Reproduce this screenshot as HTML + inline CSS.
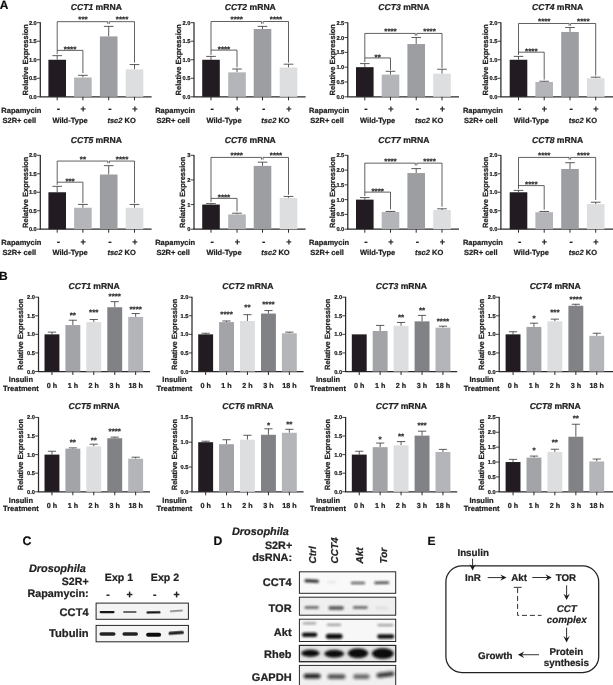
<!DOCTYPE html>
<html lang="en">
<head>
<meta charset="utf-8">
<title>CCT mRNA expression figure</title>
<style>
html,body{margin:0;padding:0;background:#fff;}
body{width:613px;height:685px;overflow:hidden;}
svg{display:block;font-family:"Liberation Sans", sans-serif;text-rendering:geometricPrecision;}
text{stroke:#222;stroke-width:0.22px;}
</style>
</head>
<body>
<svg width="613" height="685" viewBox="0 0 613 685" font-family='"Liberation Sans", sans-serif'>
<defs>
<filter id="soft" x="0" y="0" width="613" height="685" filterUnits="userSpaceOnUse"><feGaussianBlur stdDeviation="0.32"/></filter>
<filter id="b0" x="-20%" y="-60%" width="140%" height="220%"><feGaussianBlur stdDeviation="0.6"/></filter>
<filter id="b3" x="-30%" y="-80%" width="160%" height="260%"><feGaussianBlur stdDeviation="1.4"/></filter>
<filter id="b1" x="-20%" y="-60%" width="140%" height="220%"><feGaussianBlur stdDeviation="0.8"/></filter>
<filter id="b2" x="-20%" y="-60%" width="140%" height="220%"><feGaussianBlur stdDeviation="1.15"/></filter>
</defs>
<rect x="0" y="0" width="613" height="685" fill="#fff"/>
<g filter="url(#soft)">
<text x="96.35" y="10.20" font-size="8.6" text-anchor="middle" font-weight="bold" fill="#222"><tspan font-style="italic">CCT1</tspan> mRNA</text>
<path d="M40.30 22.30V96.80" stroke="#2a2a2a" stroke-width="1.25" fill="none"/>
<path d="M39.70 96.80H151.60" stroke="#2a2a2a" stroke-width="1.25" fill="none"/>
<path d="M37.00 96.80H40.30" stroke="#2a2a2a" stroke-width="0.9"/>
<text x="36.80" y="98.80" font-size="5.7" text-anchor="end" font-weight="bold" font-style="normal" fill="#222" >0.0</text>
<path d="M37.00 78.28H40.30" stroke="#2a2a2a" stroke-width="0.9"/>
<text x="36.80" y="80.28" font-size="5.7" text-anchor="end" font-weight="bold" font-style="normal" fill="#222" >0.5</text>
<path d="M37.00 59.75H40.30" stroke="#2a2a2a" stroke-width="0.9"/>
<text x="36.80" y="61.75" font-size="5.7" text-anchor="end" font-weight="bold" font-style="normal" fill="#222" >1.0</text>
<path d="M37.00 41.23H40.30" stroke="#2a2a2a" stroke-width="0.9"/>
<text x="36.80" y="43.23" font-size="5.7" text-anchor="end" font-weight="bold" font-style="normal" fill="#222" >1.5</text>
<path d="M37.00 22.70H40.30" stroke="#2a2a2a" stroke-width="0.9"/>
<text x="36.80" y="24.70" font-size="5.7" text-anchor="end" font-weight="bold" font-style="normal" fill="#222" >2.0</text>
<text transform="translate(27.50 59.75) rotate(-90)" font-size="7.5" text-anchor="middle" font-weight="bold" fill="#222">Relative Expression</text>
<path d="M57.20 59.75V55.67M52.36 55.67H62.04" stroke="#333" stroke-width="0.8" fill="none"/>
<rect x="48.40" y="59.75" width="17.60" height="37.05" fill="#231f20"/>
<path d="M57.20 96.80v3.5" stroke="#2a2a2a" stroke-width="1.0"/>
<path d="M82.90 77.53V75.31M78.06 75.31H87.74" stroke="#333" stroke-width="0.8" fill="none"/>
<rect x="74.10" y="77.53" width="17.60" height="19.27" fill="#b4b5b8"/>
<path d="M82.90 96.80v3.5" stroke="#2a2a2a" stroke-width="1.0"/>
<path d="M108.70 36.41V26.41M103.86 26.41H113.54" stroke="#333" stroke-width="0.8" fill="none"/>
<rect x="99.90" y="36.41" width="17.60" height="60.39" fill="#9c9ea1"/>
<path d="M108.70 96.80v3.5" stroke="#2a2a2a" stroke-width="1.0"/>
<path d="M134.50 69.38V64.57M129.66 64.57H139.34" stroke="#333" stroke-width="0.8" fill="none"/>
<rect x="125.70" y="69.38" width="17.60" height="27.42" fill="#dddedf"/>
<path d="M134.50 96.80v3.5" stroke="#2a2a2a" stroke-width="1.0"/>
<path d="M57.20 54.17V21.66H107.80v2.2M57.20 50.38H82.90V73.08M109.30 23.86v-2.2H134.50V62.64" stroke="#383838" stroke-width="0.8" fill="none"/>
<text x="82.95" y="22.16" font-size="8.0" text-anchor="middle" font-weight="bold" font-style="normal" fill="#333" >***</text>
<text x="122.10" y="22.16" font-size="8.0" text-anchor="middle" font-weight="bold" font-style="normal" fill="#333" >****</text>
<text x="70.05" y="52.18" font-size="8.0" text-anchor="middle" font-weight="bold" font-style="normal" fill="#333" >****</text>
<text x="1.30" y="112.50" font-size="7.5" text-anchor="start" font-weight="bold" font-style="normal" fill="#222" >Rapamycin</text>
<text x="2.50" y="123.30" font-size="7.5" text-anchor="start" font-weight="bold" font-style="normal" fill="#222" >S2R+ cell</text>
<text x="58.40" y="112.40" font-size="10.0" text-anchor="middle" font-weight="bold" font-style="normal" fill="#222" >-</text>
<text x="83.20" y="112.30" font-size="9.0" text-anchor="middle" font-weight="bold" font-style="normal" fill="#222" >+</text>
<text x="109.90" y="112.40" font-size="10.0" text-anchor="middle" font-weight="bold" font-style="normal" fill="#222" >-</text>
<text x="134.80" y="112.30" font-size="9.0" text-anchor="middle" font-weight="bold" font-style="normal" fill="#222" >+</text>
<text x="70.05" y="123.30" font-size="7.5" text-anchor="middle" font-weight="bold" font-style="normal" fill="#222" >Wild-Type</text>
<text x="121.60" y="123.30" font-size="7.5" text-anchor="middle" font-weight="bold" fill="#222"><tspan font-style="italic">tsc2</tspan> KO</text>
<text x="250.25" y="10.20" font-size="8.6" text-anchor="middle" font-weight="bold" fill="#222"><tspan font-style="italic">CCT2</tspan> mRNA</text>
<path d="M194.00 22.30V96.80" stroke="#2a2a2a" stroke-width="1.25" fill="none"/>
<path d="M193.40 96.80H305.60" stroke="#2a2a2a" stroke-width="1.25" fill="none"/>
<path d="M190.70 96.80H194.00" stroke="#2a2a2a" stroke-width="0.9"/>
<text x="190.50" y="98.80" font-size="5.7" text-anchor="end" font-weight="bold" font-style="normal" fill="#222" >0.0</text>
<path d="M190.70 78.28H194.00" stroke="#2a2a2a" stroke-width="0.9"/>
<text x="190.50" y="80.28" font-size="5.7" text-anchor="end" font-weight="bold" font-style="normal" fill="#222" >0.5</text>
<path d="M190.70 59.75H194.00" stroke="#2a2a2a" stroke-width="0.9"/>
<text x="190.50" y="61.75" font-size="5.7" text-anchor="end" font-weight="bold" font-style="normal" fill="#222" >1.0</text>
<path d="M190.70 41.23H194.00" stroke="#2a2a2a" stroke-width="0.9"/>
<text x="190.50" y="43.23" font-size="5.7" text-anchor="end" font-weight="bold" font-style="normal" fill="#222" >1.5</text>
<path d="M190.70 22.70H194.00" stroke="#2a2a2a" stroke-width="0.9"/>
<text x="190.50" y="24.70" font-size="5.7" text-anchor="end" font-weight="bold" font-style="normal" fill="#222" >2.0</text>
<text transform="translate(181.20 59.75) rotate(-90)" font-size="7.5" text-anchor="middle" font-weight="bold" fill="#222">Relative Expression</text>
<path d="M211.00 59.75V56.42M206.16 56.42H215.84" stroke="#333" stroke-width="0.8" fill="none"/>
<rect x="202.20" y="59.75" width="17.60" height="37.05" fill="#231f20"/>
<path d="M211.00 96.80v3.5" stroke="#2a2a2a" stroke-width="1.0"/>
<path d="M237.00 72.35V69.01M232.16 69.01H241.84" stroke="#333" stroke-width="0.8" fill="none"/>
<rect x="228.20" y="72.35" width="17.60" height="24.45" fill="#b4b5b8"/>
<path d="M237.00 96.80v3.5" stroke="#2a2a2a" stroke-width="1.0"/>
<path d="M262.50 29.00V26.41M257.66 26.41H267.34" stroke="#333" stroke-width="0.8" fill="none"/>
<rect x="253.70" y="29.00" width="17.60" height="67.80" fill="#9c9ea1"/>
<path d="M262.50 96.80v3.5" stroke="#2a2a2a" stroke-width="1.0"/>
<path d="M288.50 67.53V64.20M283.66 64.20H293.34" stroke="#333" stroke-width="0.8" fill="none"/>
<rect x="279.70" y="67.53" width="17.60" height="29.27" fill="#dddedf"/>
<path d="M288.50 96.80v3.5" stroke="#2a2a2a" stroke-width="1.0"/>
<path d="M211.00 54.92V21.51H261.60v2.2M211.00 50.11H237.00V67.34M263.10 23.71v-2.2H288.50V62.64" stroke="#383838" stroke-width="0.8" fill="none"/>
<text x="236.75" y="22.01" font-size="8.0" text-anchor="middle" font-weight="bold" font-style="normal" fill="#333" >****</text>
<text x="276.00" y="22.01" font-size="8.0" text-anchor="middle" font-weight="bold" font-style="normal" fill="#333" >****</text>
<text x="224.00" y="51.91" font-size="8.0" text-anchor="middle" font-weight="bold" font-style="normal" fill="#333" >****</text>
<text x="155.20" y="112.50" font-size="7.5" text-anchor="start" font-weight="bold" font-style="normal" fill="#222" >Rapamycin</text>
<text x="156.40" y="123.30" font-size="7.5" text-anchor="start" font-weight="bold" font-style="normal" fill="#222" >S2R+ cell</text>
<text x="212.20" y="112.40" font-size="10.0" text-anchor="middle" font-weight="bold" font-style="normal" fill="#222" >-</text>
<text x="237.30" y="112.30" font-size="9.0" text-anchor="middle" font-weight="bold" font-style="normal" fill="#222" >+</text>
<text x="263.70" y="112.40" font-size="10.0" text-anchor="middle" font-weight="bold" font-style="normal" fill="#222" >-</text>
<text x="288.80" y="112.30" font-size="9.0" text-anchor="middle" font-weight="bold" font-style="normal" fill="#222" >+</text>
<text x="224.00" y="123.30" font-size="7.5" text-anchor="middle" font-weight="bold" font-style="normal" fill="#222" >Wild-Type</text>
<text x="275.50" y="123.30" font-size="7.5" text-anchor="middle" font-weight="bold" fill="#222"><tspan font-style="italic">tsc2</tspan> KO</text>
<text x="403.90" y="10.20" font-size="8.6" text-anchor="middle" font-weight="bold" fill="#222"><tspan font-style="italic">CCT3</tspan> mRNA</text>
<path d="M347.80 22.30V96.80" stroke="#2a2a2a" stroke-width="1.25" fill="none"/>
<path d="M347.20 96.80H459.00" stroke="#2a2a2a" stroke-width="1.25" fill="none"/>
<path d="M344.50 96.80H347.80" stroke="#2a2a2a" stroke-width="0.9"/>
<text x="344.30" y="98.80" font-size="5.7" text-anchor="end" font-weight="bold" font-style="normal" fill="#222" >0.0</text>
<path d="M344.50 81.98H347.80" stroke="#2a2a2a" stroke-width="0.9"/>
<text x="344.30" y="83.98" font-size="5.7" text-anchor="end" font-weight="bold" font-style="normal" fill="#222" >0.5</text>
<path d="M344.50 67.16H347.80" stroke="#2a2a2a" stroke-width="0.9"/>
<text x="344.30" y="69.16" font-size="5.7" text-anchor="end" font-weight="bold" font-style="normal" fill="#222" >1.0</text>
<path d="M344.50 52.34H347.80" stroke="#2a2a2a" stroke-width="0.9"/>
<text x="344.30" y="54.34" font-size="5.7" text-anchor="end" font-weight="bold" font-style="normal" fill="#222" >1.5</text>
<path d="M344.50 37.52H347.80" stroke="#2a2a2a" stroke-width="0.9"/>
<text x="344.30" y="39.52" font-size="5.7" text-anchor="end" font-weight="bold" font-style="normal" fill="#222" >2.0</text>
<path d="M344.50 22.70H347.80" stroke="#2a2a2a" stroke-width="0.9"/>
<text x="344.30" y="24.70" font-size="5.7" text-anchor="end" font-weight="bold" font-style="normal" fill="#222" >2.5</text>
<text transform="translate(335.00 59.75) rotate(-90)" font-size="7.5" text-anchor="middle" font-weight="bold" fill="#222">Relative Expression</text>
<path d="M364.80 67.16V63.60M359.96 63.60H369.64" stroke="#333" stroke-width="0.8" fill="none"/>
<rect x="356.00" y="67.16" width="17.60" height="29.64" fill="#231f20"/>
<path d="M364.80 96.80v3.5" stroke="#2a2a2a" stroke-width="1.0"/>
<path d="M390.50 74.57V71.31M385.66 71.31H395.34" stroke="#333" stroke-width="0.8" fill="none"/>
<rect x="381.70" y="74.57" width="17.60" height="22.23" fill="#b4b5b8"/>
<path d="M390.50 96.80v3.5" stroke="#2a2a2a" stroke-width="1.0"/>
<path d="M416.20 44.04V37.52M411.36 37.52H421.04" stroke="#333" stroke-width="0.8" fill="none"/>
<rect x="407.40" y="44.04" width="17.60" height="52.76" fill="#9c9ea1"/>
<path d="M416.20 96.80v3.5" stroke="#2a2a2a" stroke-width="1.0"/>
<path d="M442.00 73.68V69.23M437.16 69.23H446.84" stroke="#333" stroke-width="0.8" fill="none"/>
<rect x="433.20" y="73.68" width="17.60" height="23.12" fill="#dddedf"/>
<path d="M442.00 96.80v3.5" stroke="#2a2a2a" stroke-width="1.0"/>
<path d="M364.80 62.10V33.41H415.30v2.2M364.80 57.94H390.50V69.95M416.80 35.61v-2.2H442.00V67.86" stroke="#383838" stroke-width="0.8" fill="none"/>
<text x="390.50" y="33.91" font-size="8.0" text-anchor="middle" font-weight="bold" font-style="normal" fill="#333" >****</text>
<text x="429.60" y="33.91" font-size="8.0" text-anchor="middle" font-weight="bold" font-style="normal" fill="#333" >****</text>
<text x="377.65" y="59.74" font-size="8.0" text-anchor="middle" font-weight="bold" font-style="normal" fill="#333" >**</text>
<text x="309.10" y="112.50" font-size="7.5" text-anchor="start" font-weight="bold" font-style="normal" fill="#222" >Rapamycin</text>
<text x="310.30" y="123.30" font-size="7.5" text-anchor="start" font-weight="bold" font-style="normal" fill="#222" >S2R+ cell</text>
<text x="366.00" y="112.40" font-size="10.0" text-anchor="middle" font-weight="bold" font-style="normal" fill="#222" >-</text>
<text x="390.80" y="112.30" font-size="9.0" text-anchor="middle" font-weight="bold" font-style="normal" fill="#222" >+</text>
<text x="417.40" y="112.40" font-size="10.0" text-anchor="middle" font-weight="bold" font-style="normal" fill="#222" >-</text>
<text x="442.30" y="112.30" font-size="9.0" text-anchor="middle" font-weight="bold" font-style="normal" fill="#222" >+</text>
<text x="377.65" y="123.30" font-size="7.5" text-anchor="middle" font-weight="bold" font-style="normal" fill="#222" >Wild-Type</text>
<text x="429.10" y="123.30" font-size="7.5" text-anchor="middle" font-weight="bold" fill="#222"><tspan font-style="italic">tsc2</tspan> KO</text>
<text x="557.60" y="10.20" font-size="8.6" text-anchor="middle" font-weight="bold" fill="#222"><tspan font-style="italic">CCT4</tspan> mRNA</text>
<path d="M500.90 22.30V96.80" stroke="#2a2a2a" stroke-width="1.25" fill="none"/>
<path d="M500.30 96.80H613.00" stroke="#2a2a2a" stroke-width="1.25" fill="none"/>
<path d="M497.60 96.80H500.90" stroke="#2a2a2a" stroke-width="0.9"/>
<text x="497.40" y="98.80" font-size="5.7" text-anchor="end" font-weight="bold" font-style="normal" fill="#222" >0.0</text>
<path d="M497.60 78.28H500.90" stroke="#2a2a2a" stroke-width="0.9"/>
<text x="497.40" y="80.28" font-size="5.7" text-anchor="end" font-weight="bold" font-style="normal" fill="#222" >0.5</text>
<path d="M497.60 59.75H500.90" stroke="#2a2a2a" stroke-width="0.9"/>
<text x="497.40" y="61.75" font-size="5.7" text-anchor="end" font-weight="bold" font-style="normal" fill="#222" >1.0</text>
<path d="M497.60 41.23H500.90" stroke="#2a2a2a" stroke-width="0.9"/>
<text x="497.40" y="43.23" font-size="5.7" text-anchor="end" font-weight="bold" font-style="normal" fill="#222" >1.5</text>
<path d="M497.60 22.70H500.90" stroke="#2a2a2a" stroke-width="0.9"/>
<text x="497.40" y="24.70" font-size="5.7" text-anchor="end" font-weight="bold" font-style="normal" fill="#222" >2.0</text>
<text transform="translate(488.10 59.75) rotate(-90)" font-size="7.5" text-anchor="middle" font-weight="bold" fill="#222">Relative Expression</text>
<path d="M518.50 59.75V56.42M513.66 56.42H523.34" stroke="#333" stroke-width="0.8" fill="none"/>
<rect x="509.70" y="59.75" width="17.60" height="37.05" fill="#231f20"/>
<path d="M518.50 96.80v3.5" stroke="#2a2a2a" stroke-width="1.0"/>
<path d="M544.20 81.98V81.24M539.36 81.24H549.04" stroke="#333" stroke-width="0.8" fill="none"/>
<rect x="535.40" y="81.98" width="17.60" height="14.82" fill="#b4b5b8"/>
<path d="M544.20 96.80v3.5" stroke="#2a2a2a" stroke-width="1.0"/>
<path d="M570.00 31.96V27.52M565.16 27.52H574.84" stroke="#333" stroke-width="0.8" fill="none"/>
<rect x="561.20" y="31.96" width="17.60" height="64.84" fill="#9c9ea1"/>
<path d="M570.00 96.80v3.5" stroke="#2a2a2a" stroke-width="1.0"/>
<path d="M595.70 78.28V77.16M590.86 77.16H600.54" stroke="#333" stroke-width="0.8" fill="none"/>
<rect x="586.90" y="78.28" width="17.60" height="18.52" fill="#dddedf"/>
<path d="M595.70 96.80v3.5" stroke="#2a2a2a" stroke-width="1.0"/>
<path d="M518.50 54.92V23.49H569.10v2.2M518.50 52.20H544.20V79.61M570.60 25.69v-2.2H595.70V75.69" stroke="#383838" stroke-width="0.8" fill="none"/>
<text x="544.25" y="23.99" font-size="8.0" text-anchor="middle" font-weight="bold" font-style="normal" fill="#333" >****</text>
<text x="583.35" y="23.99" font-size="8.0" text-anchor="middle" font-weight="bold" font-style="normal" fill="#333" >****</text>
<text x="531.35" y="54.00" font-size="8.0" text-anchor="middle" font-weight="bold" font-style="normal" fill="#333" >****</text>
<text x="462.90" y="112.50" font-size="7.5" text-anchor="start" font-weight="bold" font-style="normal" fill="#222" >Rapamycin</text>
<text x="464.10" y="123.30" font-size="7.5" text-anchor="start" font-weight="bold" font-style="normal" fill="#222" >S2R+ cell</text>
<text x="519.70" y="112.40" font-size="10.0" text-anchor="middle" font-weight="bold" font-style="normal" fill="#222" >-</text>
<text x="544.50" y="112.30" font-size="9.0" text-anchor="middle" font-weight="bold" font-style="normal" fill="#222" >+</text>
<text x="571.20" y="112.40" font-size="10.0" text-anchor="middle" font-weight="bold" font-style="normal" fill="#222" >-</text>
<text x="596.00" y="112.30" font-size="9.0" text-anchor="middle" font-weight="bold" font-style="normal" fill="#222" >+</text>
<text x="531.35" y="123.30" font-size="7.5" text-anchor="middle" font-weight="bold" font-style="normal" fill="#222" >Wild-Type</text>
<text x="582.85" y="123.30" font-size="7.5" text-anchor="middle" font-weight="bold" fill="#222"><tspan font-style="italic">tsc2</tspan> KO</text>
<text x="96.35" y="142.70" font-size="8.6" text-anchor="middle" font-weight="bold" fill="#222"><tspan font-style="italic">CCT5</tspan> mRNA</text>
<path d="M40.30 154.90V229.20" stroke="#2a2a2a" stroke-width="1.25" fill="none"/>
<path d="M39.70 229.20H151.60" stroke="#2a2a2a" stroke-width="1.25" fill="none"/>
<path d="M37.00 229.20H40.30" stroke="#2a2a2a" stroke-width="0.9"/>
<text x="36.80" y="231.20" font-size="5.7" text-anchor="end" font-weight="bold" font-style="normal" fill="#222" >0.0</text>
<path d="M37.00 210.72H40.30" stroke="#2a2a2a" stroke-width="0.9"/>
<text x="36.80" y="212.72" font-size="5.7" text-anchor="end" font-weight="bold" font-style="normal" fill="#222" >0.5</text>
<path d="M37.00 192.25H40.30" stroke="#2a2a2a" stroke-width="0.9"/>
<text x="36.80" y="194.25" font-size="5.7" text-anchor="end" font-weight="bold" font-style="normal" fill="#222" >1.0</text>
<path d="M37.00 173.78H40.30" stroke="#2a2a2a" stroke-width="0.9"/>
<text x="36.80" y="175.78" font-size="5.7" text-anchor="end" font-weight="bold" font-style="normal" fill="#222" >1.5</text>
<path d="M37.00 155.30H40.30" stroke="#2a2a2a" stroke-width="0.9"/>
<text x="36.80" y="157.30" font-size="5.7" text-anchor="end" font-weight="bold" font-style="normal" fill="#222" >2.0</text>
<text transform="translate(27.50 192.25) rotate(-90)" font-size="7.5" text-anchor="middle" font-weight="bold" fill="#222">Relative Expression</text>
<path d="M57.20 192.25V186.34M52.36 186.34H62.04" stroke="#333" stroke-width="0.8" fill="none"/>
<rect x="48.40" y="192.25" width="17.60" height="36.95" fill="#231f20"/>
<path d="M57.20 229.20v3.5" stroke="#2a2a2a" stroke-width="1.0"/>
<path d="M82.90 207.77V204.44M78.06 204.44H87.74" stroke="#333" stroke-width="0.8" fill="none"/>
<rect x="74.10" y="207.77" width="17.60" height="21.43" fill="#b4b5b8"/>
<path d="M82.90 229.20v3.5" stroke="#2a2a2a" stroke-width="1.0"/>
<path d="M108.70 174.51V165.65M103.86 165.65H113.54" stroke="#333" stroke-width="0.8" fill="none"/>
<rect x="99.90" y="174.51" width="17.60" height="54.69" fill="#9c9ea1"/>
<path d="M108.70 229.20v3.5" stroke="#2a2a2a" stroke-width="1.0"/>
<path d="M134.50 207.77V204.44M129.66 204.44H139.34" stroke="#333" stroke-width="0.8" fill="none"/>
<rect x="125.70" y="207.77" width="17.60" height="21.43" fill="#dddedf"/>
<path d="M134.50 229.20v3.5" stroke="#2a2a2a" stroke-width="1.0"/>
<path d="M57.20 184.84V161.06H107.80v2.2M57.20 182.20H82.90V203.08M109.30 163.26v-2.2H134.50V203.08" stroke="#383838" stroke-width="0.8" fill="none"/>
<text x="82.95" y="161.56" font-size="8.0" text-anchor="middle" font-weight="bold" font-style="normal" fill="#333" >**</text>
<text x="122.10" y="161.56" font-size="8.0" text-anchor="middle" font-weight="bold" font-style="normal" fill="#333" >****</text>
<text x="70.05" y="184.00" font-size="8.0" text-anchor="middle" font-weight="bold" font-style="normal" fill="#333" >***</text>
<text x="1.30" y="245.00" font-size="7.5" text-anchor="start" font-weight="bold" font-style="normal" fill="#222" >Rapamycin</text>
<text x="2.50" y="255.00" font-size="7.5" text-anchor="start" font-weight="bold" font-style="normal" fill="#222" >S2R+ cell</text>
<text x="58.40" y="244.90" font-size="10.0" text-anchor="middle" font-weight="bold" font-style="normal" fill="#222" >-</text>
<text x="83.20" y="244.80" font-size="9.0" text-anchor="middle" font-weight="bold" font-style="normal" fill="#222" >+</text>
<text x="109.90" y="244.90" font-size="10.0" text-anchor="middle" font-weight="bold" font-style="normal" fill="#222" >-</text>
<text x="134.80" y="244.80" font-size="9.0" text-anchor="middle" font-weight="bold" font-style="normal" fill="#222" >+</text>
<text x="70.05" y="255.00" font-size="7.5" text-anchor="middle" font-weight="bold" font-style="normal" fill="#222" >Wild-Type</text>
<text x="121.60" y="255.00" font-size="7.5" text-anchor="middle" font-weight="bold" fill="#222"><tspan font-style="italic">tsc2</tspan> KO</text>
<text x="250.25" y="142.70" font-size="8.6" text-anchor="middle" font-weight="bold" fill="#222"><tspan font-style="italic">CCT6</tspan> mRNA</text>
<path d="M194.00 154.90V229.20" stroke="#2a2a2a" stroke-width="1.25" fill="none"/>
<path d="M193.40 229.20H305.60" stroke="#2a2a2a" stroke-width="1.25" fill="none"/>
<path d="M190.70 229.20H194.00" stroke="#2a2a2a" stroke-width="0.9"/>
<text x="190.50" y="231.20" font-size="5.7" text-anchor="end" font-weight="bold" font-style="normal" fill="#222" >0</text>
<path d="M190.70 204.57H194.00" stroke="#2a2a2a" stroke-width="0.9"/>
<text x="190.50" y="206.57" font-size="5.7" text-anchor="end" font-weight="bold" font-style="normal" fill="#222" >1</text>
<path d="M190.70 179.93H194.00" stroke="#2a2a2a" stroke-width="0.9"/>
<text x="190.50" y="181.93" font-size="5.7" text-anchor="end" font-weight="bold" font-style="normal" fill="#222" >2</text>
<path d="M190.70 155.30H194.00" stroke="#2a2a2a" stroke-width="0.9"/>
<text x="190.50" y="157.30" font-size="5.7" text-anchor="end" font-weight="bold" font-style="normal" fill="#222" >3</text>
<text transform="translate(185.40 192.25) rotate(-90)" font-size="7.5" text-anchor="middle" font-weight="bold" fill="#222">Relative Expression</text>
<path d="M211.00 204.57V203.58M206.16 203.58H215.84" stroke="#333" stroke-width="0.8" fill="none"/>
<rect x="202.20" y="204.57" width="17.60" height="24.63" fill="#231f20"/>
<path d="M211.00 229.20v3.5" stroke="#2a2a2a" stroke-width="1.0"/>
<path d="M237.00 214.42V213.19M232.16 213.19H241.84" stroke="#333" stroke-width="0.8" fill="none"/>
<rect x="228.20" y="214.42" width="17.60" height="14.78" fill="#b4b5b8"/>
<path d="M237.00 229.20v3.5" stroke="#2a2a2a" stroke-width="1.0"/>
<path d="M262.50 165.89V162.20M257.66 162.20H267.34" stroke="#333" stroke-width="0.8" fill="none"/>
<rect x="253.70" y="165.89" width="17.60" height="63.31" fill="#9c9ea1"/>
<path d="M262.50 229.20v3.5" stroke="#2a2a2a" stroke-width="1.0"/>
<path d="M288.50 197.92V196.44M283.66 196.44H293.34" stroke="#333" stroke-width="0.8" fill="none"/>
<rect x="279.70" y="197.92" width="17.60" height="31.28" fill="#dddedf"/>
<path d="M288.50 229.20v3.5" stroke="#2a2a2a" stroke-width="1.0"/>
<path d="M211.00 202.08V157.41H261.60v2.2M211.00 198.38H237.00V211.44M263.10 159.61v-2.2H288.50V194.73" stroke="#383838" stroke-width="0.8" fill="none"/>
<text x="236.75" y="157.91" font-size="8.0" text-anchor="middle" font-weight="bold" font-style="normal" fill="#333" >****</text>
<text x="276.00" y="157.91" font-size="8.0" text-anchor="middle" font-weight="bold" font-style="normal" fill="#333" >****</text>
<text x="224.00" y="200.18" font-size="8.0" text-anchor="middle" font-weight="bold" font-style="normal" fill="#333" >****</text>
<text x="155.20" y="245.00" font-size="7.5" text-anchor="start" font-weight="bold" font-style="normal" fill="#222" >Rapamycin</text>
<text x="156.40" y="255.00" font-size="7.5" text-anchor="start" font-weight="bold" font-style="normal" fill="#222" >S2R+ cell</text>
<text x="212.20" y="244.90" font-size="10.0" text-anchor="middle" font-weight="bold" font-style="normal" fill="#222" >-</text>
<text x="237.30" y="244.80" font-size="9.0" text-anchor="middle" font-weight="bold" font-style="normal" fill="#222" >+</text>
<text x="263.70" y="244.90" font-size="10.0" text-anchor="middle" font-weight="bold" font-style="normal" fill="#222" >-</text>
<text x="288.80" y="244.80" font-size="9.0" text-anchor="middle" font-weight="bold" font-style="normal" fill="#222" >+</text>
<text x="224.00" y="255.00" font-size="7.5" text-anchor="middle" font-weight="bold" font-style="normal" fill="#222" >Wild-Type</text>
<text x="275.50" y="255.00" font-size="7.5" text-anchor="middle" font-weight="bold" fill="#222"><tspan font-style="italic">tsc2</tspan> KO</text>
<text x="403.90" y="142.70" font-size="8.6" text-anchor="middle" font-weight="bold" fill="#222"><tspan font-style="italic">CCT7</tspan> mRNA</text>
<path d="M347.80 154.90V229.20" stroke="#2a2a2a" stroke-width="1.25" fill="none"/>
<path d="M347.20 229.20H459.00" stroke="#2a2a2a" stroke-width="1.25" fill="none"/>
<path d="M344.50 229.20H347.80" stroke="#2a2a2a" stroke-width="0.9"/>
<text x="344.30" y="231.20" font-size="5.7" text-anchor="end" font-weight="bold" font-style="normal" fill="#222" >0.0</text>
<path d="M344.50 214.42H347.80" stroke="#2a2a2a" stroke-width="0.9"/>
<text x="344.30" y="216.42" font-size="5.7" text-anchor="end" font-weight="bold" font-style="normal" fill="#222" >0.5</text>
<path d="M344.50 199.64H347.80" stroke="#2a2a2a" stroke-width="0.9"/>
<text x="344.30" y="201.64" font-size="5.7" text-anchor="end" font-weight="bold" font-style="normal" fill="#222" >1.0</text>
<path d="M344.50 184.86H347.80" stroke="#2a2a2a" stroke-width="0.9"/>
<text x="344.30" y="186.86" font-size="5.7" text-anchor="end" font-weight="bold" font-style="normal" fill="#222" >1.5</text>
<path d="M344.50 170.08H347.80" stroke="#2a2a2a" stroke-width="0.9"/>
<text x="344.30" y="172.08" font-size="5.7" text-anchor="end" font-weight="bold" font-style="normal" fill="#222" >2.0</text>
<path d="M344.50 155.30H347.80" stroke="#2a2a2a" stroke-width="0.9"/>
<text x="344.30" y="157.30" font-size="5.7" text-anchor="end" font-weight="bold" font-style="normal" fill="#222" >2.5</text>
<text transform="translate(335.00 192.25) rotate(-90)" font-size="7.5" text-anchor="middle" font-weight="bold" fill="#222">Relative Expression</text>
<path d="M364.80 199.64V197.57M359.96 197.57H369.64" stroke="#333" stroke-width="0.8" fill="none"/>
<rect x="356.00" y="199.64" width="17.60" height="29.56" fill="#231f20"/>
<path d="M364.80 229.20v3.5" stroke="#2a2a2a" stroke-width="1.0"/>
<path d="M390.50 212.06V211.46M385.66 211.46H395.34" stroke="#333" stroke-width="0.8" fill="none"/>
<rect x="381.70" y="212.06" width="17.60" height="17.14" fill="#b4b5b8"/>
<path d="M390.50 229.20v3.5" stroke="#2a2a2a" stroke-width="1.0"/>
<path d="M416.20 173.04V168.60M411.36 168.60H421.04" stroke="#333" stroke-width="0.8" fill="none"/>
<rect x="407.40" y="173.04" width="17.60" height="56.16" fill="#9c9ea1"/>
<path d="M416.20 229.20v3.5" stroke="#2a2a2a" stroke-width="1.0"/>
<path d="M442.00 209.99V208.80M437.16 208.80H446.84" stroke="#333" stroke-width="0.8" fill="none"/>
<rect x="433.20" y="209.99" width="17.60" height="19.21" fill="#dddedf"/>
<path d="M442.00 229.20v3.5" stroke="#2a2a2a" stroke-width="1.0"/>
<path d="M364.80 196.07V163.15H415.30v2.2M364.80 192.12H390.50V209.35M416.80 165.35v-2.2H442.00V206.74" stroke="#383838" stroke-width="0.8" fill="none"/>
<text x="390.50" y="163.65" font-size="8.0" text-anchor="middle" font-weight="bold" font-style="normal" fill="#333" >****</text>
<text x="429.60" y="163.65" font-size="8.0" text-anchor="middle" font-weight="bold" font-style="normal" fill="#333" >****</text>
<text x="377.65" y="193.92" font-size="8.0" text-anchor="middle" font-weight="bold" font-style="normal" fill="#333" >****</text>
<text x="309.10" y="245.00" font-size="7.5" text-anchor="start" font-weight="bold" font-style="normal" fill="#222" >Rapamycin</text>
<text x="310.30" y="255.00" font-size="7.5" text-anchor="start" font-weight="bold" font-style="normal" fill="#222" >S2R+ cell</text>
<text x="366.00" y="244.90" font-size="10.0" text-anchor="middle" font-weight="bold" font-style="normal" fill="#222" >-</text>
<text x="390.80" y="244.80" font-size="9.0" text-anchor="middle" font-weight="bold" font-style="normal" fill="#222" >+</text>
<text x="417.40" y="244.90" font-size="10.0" text-anchor="middle" font-weight="bold" font-style="normal" fill="#222" >-</text>
<text x="442.30" y="244.80" font-size="9.0" text-anchor="middle" font-weight="bold" font-style="normal" fill="#222" >+</text>
<text x="377.65" y="255.00" font-size="7.5" text-anchor="middle" font-weight="bold" font-style="normal" fill="#222" >Wild-Type</text>
<text x="429.10" y="255.00" font-size="7.5" text-anchor="middle" font-weight="bold" fill="#222"><tspan font-style="italic">tsc2</tspan> KO</text>
<text x="557.60" y="142.70" font-size="8.6" text-anchor="middle" font-weight="bold" fill="#222"><tspan font-style="italic">CCT8</tspan> mRNA</text>
<path d="M500.90 154.90V229.20" stroke="#2a2a2a" stroke-width="1.25" fill="none"/>
<path d="M500.30 229.20H613.00" stroke="#2a2a2a" stroke-width="1.25" fill="none"/>
<path d="M497.60 229.20H500.90" stroke="#2a2a2a" stroke-width="0.9"/>
<text x="497.40" y="231.20" font-size="5.7" text-anchor="end" font-weight="bold" font-style="normal" fill="#222" >0.0</text>
<path d="M497.60 210.72H500.90" stroke="#2a2a2a" stroke-width="0.9"/>
<text x="497.40" y="212.72" font-size="5.7" text-anchor="end" font-weight="bold" font-style="normal" fill="#222" >0.5</text>
<path d="M497.60 192.25H500.90" stroke="#2a2a2a" stroke-width="0.9"/>
<text x="497.40" y="194.25" font-size="5.7" text-anchor="end" font-weight="bold" font-style="normal" fill="#222" >1.0</text>
<path d="M497.60 173.78H500.90" stroke="#2a2a2a" stroke-width="0.9"/>
<text x="497.40" y="175.78" font-size="5.7" text-anchor="end" font-weight="bold" font-style="normal" fill="#222" >1.5</text>
<path d="M497.60 155.30H500.90" stroke="#2a2a2a" stroke-width="0.9"/>
<text x="497.40" y="157.30" font-size="5.7" text-anchor="end" font-weight="bold" font-style="normal" fill="#222" >2.0</text>
<text transform="translate(488.10 192.25) rotate(-90)" font-size="7.5" text-anchor="middle" font-weight="bold" fill="#222">Relative Expression</text>
<path d="M518.50 192.25V190.40M513.66 190.40H523.34" stroke="#333" stroke-width="0.8" fill="none"/>
<rect x="509.70" y="192.25" width="17.60" height="36.95" fill="#231f20"/>
<path d="M518.50 229.20v3.5" stroke="#2a2a2a" stroke-width="1.0"/>
<path d="M544.20 212.20V211.46M539.36 211.46H549.04" stroke="#333" stroke-width="0.8" fill="none"/>
<rect x="535.40" y="212.20" width="17.60" height="17.00" fill="#b4b5b8"/>
<path d="M544.20 229.20v3.5" stroke="#2a2a2a" stroke-width="1.0"/>
<path d="M570.00 168.97V162.69M565.16 162.69H574.84" stroke="#333" stroke-width="0.8" fill="none"/>
<rect x="561.20" y="168.97" width="17.60" height="60.23" fill="#9c9ea1"/>
<path d="M570.00 229.20v3.5" stroke="#2a2a2a" stroke-width="1.0"/>
<path d="M595.70 204.07V202.23M590.86 202.23H600.54" stroke="#333" stroke-width="0.8" fill="none"/>
<rect x="586.90" y="204.07" width="17.60" height="25.13" fill="#dddedf"/>
<path d="M595.70 229.20v3.5" stroke="#2a2a2a" stroke-width="1.0"/>
<path d="M518.50 188.90V157.41H569.10v2.2M518.50 185.60H544.20V209.61M570.60 159.61v-2.2H595.70V199.95" stroke="#383838" stroke-width="0.8" fill="none"/>
<text x="544.25" y="157.91" font-size="8.0" text-anchor="middle" font-weight="bold" font-style="normal" fill="#333" >****</text>
<text x="583.35" y="157.91" font-size="8.0" text-anchor="middle" font-weight="bold" font-style="normal" fill="#333" >****</text>
<text x="531.35" y="187.40" font-size="8.0" text-anchor="middle" font-weight="bold" font-style="normal" fill="#333" >****</text>
<text x="462.90" y="245.00" font-size="7.5" text-anchor="start" font-weight="bold" font-style="normal" fill="#222" >Rapamycin</text>
<text x="464.10" y="255.00" font-size="7.5" text-anchor="start" font-weight="bold" font-style="normal" fill="#222" >S2R+ cell</text>
<text x="519.70" y="244.90" font-size="10.0" text-anchor="middle" font-weight="bold" font-style="normal" fill="#222" >-</text>
<text x="544.50" y="244.80" font-size="9.0" text-anchor="middle" font-weight="bold" font-style="normal" fill="#222" >+</text>
<text x="571.20" y="244.90" font-size="10.0" text-anchor="middle" font-weight="bold" font-style="normal" fill="#222" >-</text>
<text x="596.00" y="244.80" font-size="9.0" text-anchor="middle" font-weight="bold" font-style="normal" fill="#222" >+</text>
<text x="531.35" y="255.00" font-size="7.5" text-anchor="middle" font-weight="bold" font-style="normal" fill="#222" >Wild-Type</text>
<text x="582.85" y="255.00" font-size="7.5" text-anchor="middle" font-weight="bold" fill="#222"><tspan font-style="italic">tsc2</tspan> KO</text>
<text x="94.10" y="288.50" font-size="8.6" text-anchor="middle" font-weight="bold" fill="#222"><tspan font-style="italic">CCT1</tspan> mRNA</text>
<path d="M38.50 296.80V371.50" stroke="#2a2a2a" stroke-width="1.25" fill="none"/>
<path d="M37.90 371.50H150.00" stroke="#2a2a2a" stroke-width="1.25" fill="none"/>
<path d="M35.20 371.50H38.50" stroke="#2a2a2a" stroke-width="0.9"/>
<text x="35.00" y="373.50" font-size="5.7" text-anchor="end" font-weight="bold" font-style="normal" fill="#222" >0.0</text>
<path d="M35.20 352.93H38.50" stroke="#2a2a2a" stroke-width="0.9"/>
<text x="35.00" y="354.93" font-size="5.7" text-anchor="end" font-weight="bold" font-style="normal" fill="#222" >0.5</text>
<path d="M35.20 334.35H38.50" stroke="#2a2a2a" stroke-width="0.9"/>
<text x="35.00" y="336.35" font-size="5.7" text-anchor="end" font-weight="bold" font-style="normal" fill="#222" >1.0</text>
<path d="M35.20 315.77H38.50" stroke="#2a2a2a" stroke-width="0.9"/>
<text x="35.00" y="317.77" font-size="5.7" text-anchor="end" font-weight="bold" font-style="normal" fill="#222" >1.5</text>
<path d="M35.20 297.20H38.50" stroke="#2a2a2a" stroke-width="0.9"/>
<text x="35.00" y="299.20" font-size="5.7" text-anchor="end" font-weight="bold" font-style="normal" fill="#222" >2.0</text>
<text transform="translate(23.30 334.35) rotate(-90)" font-size="7.5" text-anchor="middle" font-weight="bold" fill="#222">Relative Expression</text>
<path d="M51.95 334.35V332.12M47.85 332.12H56.05" stroke="#333" stroke-width="0.8" fill="none"/>
<rect x="44.50" y="334.35" width="14.90" height="37.15" fill="#231f20"/>
<path d="M51.95 371.50v3.5" stroke="#2a2a2a" stroke-width="1.0"/>
<path d="M72.85 325.06V320.23M68.75 320.23H76.95" stroke="#333" stroke-width="0.8" fill="none"/>
<rect x="65.40" y="325.06" width="14.90" height="46.44" fill="#a2a4a7"/>
<path d="M72.85 371.50v3.5" stroke="#2a2a2a" stroke-width="1.0"/>
<path d="M93.75 322.09V319.49M89.65 319.49H97.85" stroke="#333" stroke-width="0.8" fill="none"/>
<rect x="86.30" y="322.09" width="14.90" height="49.41" fill="#dddedf"/>
<path d="M93.75 371.50v3.5" stroke="#2a2a2a" stroke-width="1.0"/>
<path d="M114.75 307.23V301.66M110.65 301.66H118.85" stroke="#333" stroke-width="0.8" fill="none"/>
<rect x="107.30" y="307.23" width="14.90" height="64.27" fill="#808285"/>
<path d="M114.75 371.50v3.5" stroke="#2a2a2a" stroke-width="1.0"/>
<path d="M135.65 316.89V313.55M131.55 313.55H139.75" stroke="#333" stroke-width="0.8" fill="none"/>
<rect x="128.20" y="316.89" width="14.90" height="54.61" fill="#b3b5b8"/>
<path d="M135.65 371.50v3.5" stroke="#2a2a2a" stroke-width="1.0"/>
<text x="72.85" y="318.07" font-size="8.0" text-anchor="middle" font-weight="bold" font-style="normal" fill="#333" >**</text>
<text x="93.75" y="315.46" font-size="8.0" text-anchor="middle" font-weight="bold" font-style="normal" fill="#333" >***</text>
<text x="114.75" y="299.28" font-size="8.0" text-anchor="middle" font-weight="bold" font-style="normal" fill="#333" >****</text>
<text x="135.65" y="311.55" font-size="8.0" text-anchor="middle" font-weight="bold" font-style="normal" fill="#333" >****</text>
<text x="20.90" y="381.90" font-size="7.5" text-anchor="middle" font-weight="bold" font-style="normal" fill="#222" >Insulin</text>
<text x="20.90" y="390.80" font-size="7.5" text-anchor="middle" font-weight="bold" font-style="normal" fill="#222" >Treatment</text>
<text x="51.95" y="387.50" font-size="7.2" text-anchor="middle" font-weight="bold" font-style="normal" fill="#222" >0 h</text>
<text x="72.85" y="387.50" font-size="7.2" text-anchor="middle" font-weight="bold" font-style="normal" fill="#222" >1 h</text>
<text x="93.75" y="387.50" font-size="7.2" text-anchor="middle" font-weight="bold" font-style="normal" fill="#222" >2 h</text>
<text x="114.75" y="387.50" font-size="7.2" text-anchor="middle" font-weight="bold" font-style="normal" fill="#222" >3 h</text>
<text x="135.65" y="387.50" font-size="7.2" text-anchor="middle" font-weight="bold" font-style="normal" fill="#222" >18 h</text>
<text x="247.80" y="288.50" font-size="8.6" text-anchor="middle" font-weight="bold" fill="#222"><tspan font-style="italic">CCT2</tspan> mRNA</text>
<path d="M192.00 296.80V371.50" stroke="#2a2a2a" stroke-width="1.25" fill="none"/>
<path d="M191.40 371.50H303.60" stroke="#2a2a2a" stroke-width="1.25" fill="none"/>
<path d="M188.70 371.50H192.00" stroke="#2a2a2a" stroke-width="0.9"/>
<text x="188.50" y="373.50" font-size="5.7" text-anchor="end" font-weight="bold" font-style="normal" fill="#222" >0.0</text>
<path d="M188.70 352.93H192.00" stroke="#2a2a2a" stroke-width="0.9"/>
<text x="188.50" y="354.93" font-size="5.7" text-anchor="end" font-weight="bold" font-style="normal" fill="#222" >0.5</text>
<path d="M188.70 334.35H192.00" stroke="#2a2a2a" stroke-width="0.9"/>
<text x="188.50" y="336.35" font-size="5.7" text-anchor="end" font-weight="bold" font-style="normal" fill="#222" >1.0</text>
<path d="M188.70 315.77H192.00" stroke="#2a2a2a" stroke-width="0.9"/>
<text x="188.50" y="317.77" font-size="5.7" text-anchor="end" font-weight="bold" font-style="normal" fill="#222" >1.5</text>
<path d="M188.70 297.20H192.00" stroke="#2a2a2a" stroke-width="0.9"/>
<text x="188.50" y="299.20" font-size="5.7" text-anchor="end" font-weight="bold" font-style="normal" fill="#222" >2.0</text>
<text transform="translate(176.80 334.35) rotate(-90)" font-size="7.5" text-anchor="middle" font-weight="bold" fill="#222">Relative Expression</text>
<path d="M205.65 334.35V333.24M201.55 333.24H209.75" stroke="#333" stroke-width="0.8" fill="none"/>
<rect x="198.20" y="334.35" width="14.90" height="37.15" fill="#231f20"/>
<path d="M205.65 371.50v3.5" stroke="#2a2a2a" stroke-width="1.0"/>
<path d="M226.55 322.09V320.98M222.45 320.98H230.65" stroke="#333" stroke-width="0.8" fill="none"/>
<rect x="219.10" y="322.09" width="14.90" height="49.41" fill="#a2a4a7"/>
<path d="M226.55 371.50v3.5" stroke="#2a2a2a" stroke-width="1.0"/>
<path d="M247.45 320.98V314.66M243.35 314.66H251.55" stroke="#333" stroke-width="0.8" fill="none"/>
<rect x="240.00" y="320.98" width="14.90" height="50.52" fill="#dddedf"/>
<path d="M247.45 371.50v3.5" stroke="#2a2a2a" stroke-width="1.0"/>
<path d="M268.45 313.55V310.57M264.35 310.57H272.55" stroke="#333" stroke-width="0.8" fill="none"/>
<rect x="261.00" y="313.55" width="14.90" height="57.95" fill="#808285"/>
<path d="M268.45 371.50v3.5" stroke="#2a2a2a" stroke-width="1.0"/>
<path d="M289.35 333.24V332.12M285.25 332.12H293.45" stroke="#333" stroke-width="0.8" fill="none"/>
<rect x="281.90" y="333.24" width="14.90" height="38.26" fill="#b3b5b8"/>
<path d="M289.35 371.50v3.5" stroke="#2a2a2a" stroke-width="1.0"/>
<text x="226.55" y="316.77" font-size="8.0" text-anchor="middle" font-weight="bold" font-style="normal" fill="#333" >****</text>
<text x="247.45" y="310.24" font-size="8.0" text-anchor="middle" font-weight="bold" font-style="normal" fill="#333" >**</text>
<text x="268.45" y="306.85" font-size="8.0" text-anchor="middle" font-weight="bold" font-style="normal" fill="#333" >****</text>
<text x="174.40" y="381.90" font-size="7.5" text-anchor="middle" font-weight="bold" font-style="normal" fill="#222" >Insulin</text>
<text x="174.40" y="390.80" font-size="7.5" text-anchor="middle" font-weight="bold" font-style="normal" fill="#222" >Treatment</text>
<text x="205.65" y="387.50" font-size="7.2" text-anchor="middle" font-weight="bold" font-style="normal" fill="#222" >0 h</text>
<text x="226.55" y="387.50" font-size="7.2" text-anchor="middle" font-weight="bold" font-style="normal" fill="#222" >1 h</text>
<text x="247.45" y="387.50" font-size="7.2" text-anchor="middle" font-weight="bold" font-style="normal" fill="#222" >2 h</text>
<text x="268.45" y="387.50" font-size="7.2" text-anchor="middle" font-weight="bold" font-style="normal" fill="#222" >3 h</text>
<text x="289.35" y="387.50" font-size="7.2" text-anchor="middle" font-weight="bold" font-style="normal" fill="#222" >18 h</text>
<text x="401.40" y="288.50" font-size="8.6" text-anchor="middle" font-weight="bold" fill="#222"><tspan font-style="italic">CCT3</tspan> mRNA</text>
<path d="M345.60 296.80V371.50" stroke="#2a2a2a" stroke-width="1.25" fill="none"/>
<path d="M345.00 371.50H457.20" stroke="#2a2a2a" stroke-width="1.25" fill="none"/>
<path d="M342.30 371.50H345.60" stroke="#2a2a2a" stroke-width="0.9"/>
<text x="342.10" y="373.50" font-size="5.7" text-anchor="end" font-weight="bold" font-style="normal" fill="#222" >0.0</text>
<path d="M342.30 352.93H345.60" stroke="#2a2a2a" stroke-width="0.9"/>
<text x="342.10" y="354.93" font-size="5.7" text-anchor="end" font-weight="bold" font-style="normal" fill="#222" >0.5</text>
<path d="M342.30 334.35H345.60" stroke="#2a2a2a" stroke-width="0.9"/>
<text x="342.10" y="336.35" font-size="5.7" text-anchor="end" font-weight="bold" font-style="normal" fill="#222" >1.0</text>
<path d="M342.30 315.77H345.60" stroke="#2a2a2a" stroke-width="0.9"/>
<text x="342.10" y="317.77" font-size="5.7" text-anchor="end" font-weight="bold" font-style="normal" fill="#222" >1.5</text>
<path d="M342.30 297.20H345.60" stroke="#2a2a2a" stroke-width="0.9"/>
<text x="342.10" y="299.20" font-size="5.7" text-anchor="end" font-weight="bold" font-style="normal" fill="#222" >2.0</text>
<text transform="translate(330.40 334.35) rotate(-90)" font-size="7.5" text-anchor="middle" font-weight="bold" fill="#222">Relative Expression</text>
<rect x="351.80" y="334.35" width="14.90" height="37.15" fill="#231f20"/>
<path d="M359.25 371.50v3.5" stroke="#2a2a2a" stroke-width="1.0"/>
<path d="M380.15 331.01V325.43M376.05 325.43H384.25" stroke="#333" stroke-width="0.8" fill="none"/>
<rect x="372.70" y="331.01" width="14.90" height="40.49" fill="#a2a4a7"/>
<path d="M380.15 371.50v3.5" stroke="#2a2a2a" stroke-width="1.0"/>
<path d="M401.05 325.81V322.46M396.95 322.46H405.15" stroke="#333" stroke-width="0.8" fill="none"/>
<rect x="393.60" y="325.81" width="14.90" height="45.69" fill="#dddedf"/>
<path d="M401.05 371.50v3.5" stroke="#2a2a2a" stroke-width="1.0"/>
<path d="M422.05 321.35V315.40M417.95 315.40H426.15" stroke="#333" stroke-width="0.8" fill="none"/>
<rect x="414.60" y="321.35" width="14.90" height="50.15" fill="#808285"/>
<path d="M422.05 371.50v3.5" stroke="#2a2a2a" stroke-width="1.0"/>
<path d="M442.95 327.66V326.18M438.85 326.18H447.05" stroke="#333" stroke-width="0.8" fill="none"/>
<rect x="435.50" y="327.66" width="14.90" height="43.84" fill="#b3b5b8"/>
<path d="M442.95 371.50v3.5" stroke="#2a2a2a" stroke-width="1.0"/>
<text x="401.05" y="320.16" font-size="8.0" text-anchor="middle" font-weight="bold" font-style="normal" fill="#333" >**</text>
<text x="422.05" y="312.85" font-size="8.0" text-anchor="middle" font-weight="bold" font-style="normal" fill="#333" >**</text>
<text x="442.95" y="323.81" font-size="8.0" text-anchor="middle" font-weight="bold" font-style="normal" fill="#333" >****</text>
<text x="328.00" y="381.90" font-size="7.5" text-anchor="middle" font-weight="bold" font-style="normal" fill="#222" >Insulin</text>
<text x="328.00" y="390.80" font-size="7.5" text-anchor="middle" font-weight="bold" font-style="normal" fill="#222" >Treatment</text>
<text x="359.25" y="387.50" font-size="7.2" text-anchor="middle" font-weight="bold" font-style="normal" fill="#222" >0 h</text>
<text x="380.15" y="387.50" font-size="7.2" text-anchor="middle" font-weight="bold" font-style="normal" fill="#222" >1 h</text>
<text x="401.05" y="387.50" font-size="7.2" text-anchor="middle" font-weight="bold" font-style="normal" fill="#222" >2 h</text>
<text x="422.05" y="387.50" font-size="7.2" text-anchor="middle" font-weight="bold" font-style="normal" fill="#222" >3 h</text>
<text x="442.95" y="387.50" font-size="7.2" text-anchor="middle" font-weight="bold" font-style="normal" fill="#222" >18 h</text>
<text x="555.20" y="288.50" font-size="8.6" text-anchor="middle" font-weight="bold" fill="#222"><tspan font-style="italic">CCT4</tspan> mRNA</text>
<path d="M499.20 296.80V371.50" stroke="#2a2a2a" stroke-width="1.25" fill="none"/>
<path d="M498.60 371.50H613.00" stroke="#2a2a2a" stroke-width="1.25" fill="none"/>
<path d="M495.90 371.50H499.20" stroke="#2a2a2a" stroke-width="0.9"/>
<text x="495.70" y="373.50" font-size="5.7" text-anchor="end" font-weight="bold" font-style="normal" fill="#222" >0.0</text>
<path d="M495.90 352.93H499.20" stroke="#2a2a2a" stroke-width="0.9"/>
<text x="495.70" y="354.93" font-size="5.7" text-anchor="end" font-weight="bold" font-style="normal" fill="#222" >0.5</text>
<path d="M495.90 334.35H499.20" stroke="#2a2a2a" stroke-width="0.9"/>
<text x="495.70" y="336.35" font-size="5.7" text-anchor="end" font-weight="bold" font-style="normal" fill="#222" >1.0</text>
<path d="M495.90 315.77H499.20" stroke="#2a2a2a" stroke-width="0.9"/>
<text x="495.70" y="317.77" font-size="5.7" text-anchor="end" font-weight="bold" font-style="normal" fill="#222" >1.5</text>
<path d="M495.90 297.20H499.20" stroke="#2a2a2a" stroke-width="0.9"/>
<text x="495.70" y="299.20" font-size="5.7" text-anchor="end" font-weight="bold" font-style="normal" fill="#222" >2.0</text>
<text transform="translate(484.00 334.35) rotate(-90)" font-size="7.5" text-anchor="middle" font-weight="bold" fill="#222">Relative Expression</text>
<path d="M513.05 334.35V331.75M508.95 331.75H517.15" stroke="#333" stroke-width="0.8" fill="none"/>
<rect x="505.60" y="334.35" width="14.90" height="37.15" fill="#231f20"/>
<path d="M513.05 371.50v3.5" stroke="#2a2a2a" stroke-width="1.0"/>
<path d="M533.95 326.92V323.20M529.85 323.20H538.05" stroke="#333" stroke-width="0.8" fill="none"/>
<rect x="526.50" y="326.92" width="14.90" height="44.58" fill="#a2a4a7"/>
<path d="M533.95 371.50v3.5" stroke="#2a2a2a" stroke-width="1.0"/>
<path d="M554.85 321.35V319.12M550.75 319.12H558.95" stroke="#333" stroke-width="0.8" fill="none"/>
<rect x="547.40" y="321.35" width="14.90" height="50.15" fill="#dddedf"/>
<path d="M554.85 371.50v3.5" stroke="#2a2a2a" stroke-width="1.0"/>
<path d="M575.85 305.74V304.26M571.75 304.26H579.95" stroke="#333" stroke-width="0.8" fill="none"/>
<rect x="568.40" y="305.74" width="14.90" height="65.76" fill="#808285"/>
<path d="M575.85 371.50v3.5" stroke="#2a2a2a" stroke-width="1.0"/>
<path d="M596.75 335.84V333.24M592.65 333.24H600.85" stroke="#333" stroke-width="0.8" fill="none"/>
<rect x="589.30" y="335.84" width="14.90" height="35.66" fill="#b3b5b8"/>
<path d="M596.75 371.50v3.5" stroke="#2a2a2a" stroke-width="1.0"/>
<text x="533.95" y="320.68" font-size="8.0" text-anchor="middle" font-weight="bold" font-style="normal" fill="#333" >*</text>
<text x="554.85" y="315.46" font-size="8.0" text-anchor="middle" font-weight="bold" font-style="normal" fill="#333" >***</text>
<text x="575.85" y="301.63" font-size="8.0" text-anchor="middle" font-weight="bold" font-style="normal" fill="#333" >****</text>
<text x="481.60" y="381.90" font-size="7.5" text-anchor="middle" font-weight="bold" font-style="normal" fill="#222" >Insulin</text>
<text x="481.60" y="390.80" font-size="7.5" text-anchor="middle" font-weight="bold" font-style="normal" fill="#222" >Treatment</text>
<text x="513.05" y="387.50" font-size="7.2" text-anchor="middle" font-weight="bold" font-style="normal" fill="#222" >0 h</text>
<text x="533.95" y="387.50" font-size="7.2" text-anchor="middle" font-weight="bold" font-style="normal" fill="#222" >1 h</text>
<text x="554.85" y="387.50" font-size="7.2" text-anchor="middle" font-weight="bold" font-style="normal" fill="#222" >2 h</text>
<text x="575.85" y="387.50" font-size="7.2" text-anchor="middle" font-weight="bold" font-style="normal" fill="#222" >3 h</text>
<text x="596.75" y="387.50" font-size="7.2" text-anchor="middle" font-weight="bold" font-style="normal" fill="#222" >18 h</text>
<text x="94.10" y="409.00" font-size="8.6" text-anchor="middle" font-weight="bold" fill="#222"><tspan font-style="italic">CCT5</tspan> mRNA</text>
<path d="M38.50 417.00V491.80" stroke="#2a2a2a" stroke-width="1.25" fill="none"/>
<path d="M37.90 491.80H150.00" stroke="#2a2a2a" stroke-width="1.25" fill="none"/>
<path d="M35.20 491.80H38.50" stroke="#2a2a2a" stroke-width="0.9"/>
<text x="35.00" y="493.80" font-size="5.7" text-anchor="end" font-weight="bold" font-style="normal" fill="#222" >0.0</text>
<path d="M35.20 473.20H38.50" stroke="#2a2a2a" stroke-width="0.9"/>
<text x="35.00" y="475.20" font-size="5.7" text-anchor="end" font-weight="bold" font-style="normal" fill="#222" >0.5</text>
<path d="M35.20 454.60H38.50" stroke="#2a2a2a" stroke-width="0.9"/>
<text x="35.00" y="456.60" font-size="5.7" text-anchor="end" font-weight="bold" font-style="normal" fill="#222" >1.0</text>
<path d="M35.20 436.00H38.50" stroke="#2a2a2a" stroke-width="0.9"/>
<text x="35.00" y="438.00" font-size="5.7" text-anchor="end" font-weight="bold" font-style="normal" fill="#222" >1.5</text>
<path d="M35.20 417.40H38.50" stroke="#2a2a2a" stroke-width="0.9"/>
<text x="35.00" y="419.40" font-size="5.7" text-anchor="end" font-weight="bold" font-style="normal" fill="#222" >2.0</text>
<text transform="translate(23.30 454.60) rotate(-90)" font-size="7.5" text-anchor="middle" font-weight="bold" fill="#222">Relative Expression</text>
<path d="M51.95 454.60V451.25M47.85 451.25H56.05" stroke="#333" stroke-width="0.8" fill="none"/>
<rect x="44.50" y="454.60" width="14.90" height="37.20" fill="#231f20"/>
<path d="M51.95 491.80v3.5" stroke="#2a2a2a" stroke-width="1.0"/>
<path d="M72.85 448.65V447.90M68.75 447.90H76.95" stroke="#333" stroke-width="0.8" fill="none"/>
<rect x="65.40" y="448.65" width="14.90" height="43.15" fill="#a2a4a7"/>
<path d="M72.85 491.80v3.5" stroke="#2a2a2a" stroke-width="1.0"/>
<path d="M93.75 446.42V444.18M89.65 444.18H97.85" stroke="#333" stroke-width="0.8" fill="none"/>
<rect x="86.30" y="446.42" width="14.90" height="45.38" fill="#dddedf"/>
<path d="M93.75 491.80v3.5" stroke="#2a2a2a" stroke-width="1.0"/>
<path d="M114.75 438.23V437.12M110.65 437.12H118.85" stroke="#333" stroke-width="0.8" fill="none"/>
<rect x="107.30" y="438.23" width="14.90" height="53.57" fill="#808285"/>
<path d="M114.75 491.80v3.5" stroke="#2a2a2a" stroke-width="1.0"/>
<path d="M135.65 458.69V457.20M131.55 457.20H139.75" stroke="#333" stroke-width="0.8" fill="none"/>
<rect x="128.20" y="458.69" width="14.90" height="33.11" fill="#b3b5b8"/>
<path d="M135.65 491.80v3.5" stroke="#2a2a2a" stroke-width="1.0"/>
<text x="72.85" y="445.12" font-size="8.0" text-anchor="middle" font-weight="bold" font-style="normal" fill="#333" >**</text>
<text x="93.75" y="442.51" font-size="8.0" text-anchor="middle" font-weight="bold" font-style="normal" fill="#333" >**</text>
<text x="114.75" y="434.16" font-size="8.0" text-anchor="middle" font-weight="bold" font-style="normal" fill="#333" >****</text>
<text x="20.90" y="502.90" font-size="7.5" text-anchor="middle" font-weight="bold" font-style="normal" fill="#222" >Insulin</text>
<text x="20.90" y="511.30" font-size="7.5" text-anchor="middle" font-weight="bold" font-style="normal" fill="#222" >Treatment</text>
<text x="51.95" y="507.80" font-size="7.2" text-anchor="middle" font-weight="bold" font-style="normal" fill="#222" >0 h</text>
<text x="72.85" y="507.80" font-size="7.2" text-anchor="middle" font-weight="bold" font-style="normal" fill="#222" >1 h</text>
<text x="93.75" y="507.80" font-size="7.2" text-anchor="middle" font-weight="bold" font-style="normal" fill="#222" >2 h</text>
<text x="114.75" y="507.80" font-size="7.2" text-anchor="middle" font-weight="bold" font-style="normal" fill="#222" >3 h</text>
<text x="135.65" y="507.80" font-size="7.2" text-anchor="middle" font-weight="bold" font-style="normal" fill="#222" >18 h</text>
<text x="247.80" y="409.00" font-size="8.6" text-anchor="middle" font-weight="bold" fill="#222"><tspan font-style="italic">CCT6</tspan> mRNA</text>
<path d="M192.00 417.00V491.80" stroke="#2a2a2a" stroke-width="1.25" fill="none"/>
<path d="M191.40 491.80H303.60" stroke="#2a2a2a" stroke-width="1.25" fill="none"/>
<path d="M188.70 491.80H192.00" stroke="#2a2a2a" stroke-width="0.9"/>
<text x="188.50" y="493.80" font-size="5.7" text-anchor="end" font-weight="bold" font-style="normal" fill="#222" >0.0</text>
<path d="M188.70 467.00H192.00" stroke="#2a2a2a" stroke-width="0.9"/>
<text x="188.50" y="469.00" font-size="5.7" text-anchor="end" font-weight="bold" font-style="normal" fill="#222" >0.5</text>
<path d="M188.70 442.20H192.00" stroke="#2a2a2a" stroke-width="0.9"/>
<text x="188.50" y="444.20" font-size="5.7" text-anchor="end" font-weight="bold" font-style="normal" fill="#222" >1.0</text>
<path d="M188.70 417.40H192.00" stroke="#2a2a2a" stroke-width="0.9"/>
<text x="188.50" y="419.40" font-size="5.7" text-anchor="end" font-weight="bold" font-style="normal" fill="#222" >1.5</text>
<text transform="translate(176.80 454.60) rotate(-90)" font-size="7.5" text-anchor="middle" font-weight="bold" fill="#222">Relative Expression</text>
<path d="M205.65 442.20V441.21M201.55 441.21H209.75" stroke="#333" stroke-width="0.8" fill="none"/>
<rect x="198.20" y="442.20" width="14.90" height="49.60" fill="#231f20"/>
<path d="M205.65 491.80v3.5" stroke="#2a2a2a" stroke-width="1.0"/>
<path d="M226.55 444.18V439.72M222.45 439.72H230.65" stroke="#333" stroke-width="0.8" fill="none"/>
<rect x="219.10" y="444.18" width="14.90" height="47.62" fill="#a2a4a7"/>
<path d="M226.55 491.80v3.5" stroke="#2a2a2a" stroke-width="1.0"/>
<path d="M247.45 439.72V435.26M243.35 435.26H251.55" stroke="#333" stroke-width="0.8" fill="none"/>
<rect x="240.00" y="439.72" width="14.90" height="52.08" fill="#dddedf"/>
<path d="M247.45 491.80v3.5" stroke="#2a2a2a" stroke-width="1.0"/>
<path d="M268.45 434.76V428.81M264.35 428.81H272.55" stroke="#333" stroke-width="0.8" fill="none"/>
<rect x="261.00" y="434.76" width="14.90" height="57.04" fill="#808285"/>
<path d="M268.45 491.80v3.5" stroke="#2a2a2a" stroke-width="1.0"/>
<path d="M289.35 432.78V429.30M285.25 429.30H293.45" stroke="#333" stroke-width="0.8" fill="none"/>
<rect x="281.90" y="432.78" width="14.90" height="59.02" fill="#b3b5b8"/>
<path d="M289.35 491.80v3.5" stroke="#2a2a2a" stroke-width="1.0"/>
<text x="268.45" y="427.63" font-size="8.0" text-anchor="middle" font-weight="bold" font-style="normal" fill="#333" >*</text>
<text x="289.35" y="426.85" font-size="8.0" text-anchor="middle" font-weight="bold" font-style="normal" fill="#333" >**</text>
<text x="174.40" y="502.90" font-size="7.5" text-anchor="middle" font-weight="bold" font-style="normal" fill="#222" >Insulin</text>
<text x="174.40" y="511.30" font-size="7.5" text-anchor="middle" font-weight="bold" font-style="normal" fill="#222" >Treatment</text>
<text x="205.65" y="507.80" font-size="7.2" text-anchor="middle" font-weight="bold" font-style="normal" fill="#222" >0 h</text>
<text x="226.55" y="507.80" font-size="7.2" text-anchor="middle" font-weight="bold" font-style="normal" fill="#222" >1 h</text>
<text x="247.45" y="507.80" font-size="7.2" text-anchor="middle" font-weight="bold" font-style="normal" fill="#222" >2 h</text>
<text x="268.45" y="507.80" font-size="7.2" text-anchor="middle" font-weight="bold" font-style="normal" fill="#222" >3 h</text>
<text x="289.35" y="507.80" font-size="7.2" text-anchor="middle" font-weight="bold" font-style="normal" fill="#222" >18 h</text>
<text x="401.40" y="409.00" font-size="8.6" text-anchor="middle" font-weight="bold" fill="#222"><tspan font-style="italic">CCT7</tspan> mRNA</text>
<path d="M345.60 417.00V491.80" stroke="#2a2a2a" stroke-width="1.25" fill="none"/>
<path d="M345.00 491.80H457.20" stroke="#2a2a2a" stroke-width="1.25" fill="none"/>
<path d="M342.30 491.80H345.60" stroke="#2a2a2a" stroke-width="0.9"/>
<text x="342.10" y="493.80" font-size="5.7" text-anchor="end" font-weight="bold" font-style="normal" fill="#222" >0.0</text>
<path d="M342.30 473.20H345.60" stroke="#2a2a2a" stroke-width="0.9"/>
<text x="342.10" y="475.20" font-size="5.7" text-anchor="end" font-weight="bold" font-style="normal" fill="#222" >0.5</text>
<path d="M342.30 454.60H345.60" stroke="#2a2a2a" stroke-width="0.9"/>
<text x="342.10" y="456.60" font-size="5.7" text-anchor="end" font-weight="bold" font-style="normal" fill="#222" >1.0</text>
<path d="M342.30 436.00H345.60" stroke="#2a2a2a" stroke-width="0.9"/>
<text x="342.10" y="438.00" font-size="5.7" text-anchor="end" font-weight="bold" font-style="normal" fill="#222" >1.5</text>
<path d="M342.30 417.40H345.60" stroke="#2a2a2a" stroke-width="0.9"/>
<text x="342.10" y="419.40" font-size="5.7" text-anchor="end" font-weight="bold" font-style="normal" fill="#222" >2.0</text>
<text transform="translate(330.40 454.60) rotate(-90)" font-size="7.5" text-anchor="middle" font-weight="bold" fill="#222">Relative Expression</text>
<path d="M359.25 454.60V451.25M355.15 451.25H363.35" stroke="#333" stroke-width="0.8" fill="none"/>
<rect x="351.80" y="454.60" width="14.90" height="37.20" fill="#231f20"/>
<path d="M359.25 491.80v3.5" stroke="#2a2a2a" stroke-width="1.0"/>
<path d="M380.15 447.16V443.07M376.05 443.07H384.25" stroke="#333" stroke-width="0.8" fill="none"/>
<rect x="372.70" y="447.16" width="14.90" height="44.64" fill="#a2a4a7"/>
<path d="M380.15 491.80v3.5" stroke="#2a2a2a" stroke-width="1.0"/>
<path d="M401.05 445.30V441.58M396.95 441.58H405.15" stroke="#333" stroke-width="0.8" fill="none"/>
<rect x="393.60" y="445.30" width="14.90" height="46.50" fill="#dddedf"/>
<path d="M401.05 491.80v3.5" stroke="#2a2a2a" stroke-width="1.0"/>
<path d="M422.05 435.63V431.16M417.95 431.16H426.15" stroke="#333" stroke-width="0.8" fill="none"/>
<rect x="414.60" y="435.63" width="14.90" height="56.17" fill="#808285"/>
<path d="M422.05 491.80v3.5" stroke="#2a2a2a" stroke-width="1.0"/>
<path d="M442.95 452.00V449.39M438.85 449.39H447.05" stroke="#333" stroke-width="0.8" fill="none"/>
<rect x="435.50" y="452.00" width="14.90" height="39.80" fill="#b3b5b8"/>
<path d="M442.95 491.80v3.5" stroke="#2a2a2a" stroke-width="1.0"/>
<text x="380.15" y="441.99" font-size="8.0" text-anchor="middle" font-weight="bold" font-style="normal" fill="#333" >*</text>
<text x="401.05" y="439.38" font-size="8.0" text-anchor="middle" font-weight="bold" font-style="normal" fill="#333" >**</text>
<text x="422.05" y="427.63" font-size="8.0" text-anchor="middle" font-weight="bold" font-style="normal" fill="#333" >***</text>
<text x="328.00" y="502.90" font-size="7.5" text-anchor="middle" font-weight="bold" font-style="normal" fill="#222" >Insulin</text>
<text x="328.00" y="511.30" font-size="7.5" text-anchor="middle" font-weight="bold" font-style="normal" fill="#222" >Treatment</text>
<text x="359.25" y="507.80" font-size="7.2" text-anchor="middle" font-weight="bold" font-style="normal" fill="#222" >0 h</text>
<text x="380.15" y="507.80" font-size="7.2" text-anchor="middle" font-weight="bold" font-style="normal" fill="#222" >1 h</text>
<text x="401.05" y="507.80" font-size="7.2" text-anchor="middle" font-weight="bold" font-style="normal" fill="#222" >2 h</text>
<text x="422.05" y="507.80" font-size="7.2" text-anchor="middle" font-weight="bold" font-style="normal" fill="#222" >3 h</text>
<text x="442.95" y="507.80" font-size="7.2" text-anchor="middle" font-weight="bold" font-style="normal" fill="#222" >18 h</text>
<text x="555.20" y="409.00" font-size="8.6" text-anchor="middle" font-weight="bold" fill="#222"><tspan font-style="italic">CCT8</tspan> mRNA</text>
<path d="M499.20 417.00V491.80" stroke="#2a2a2a" stroke-width="1.25" fill="none"/>
<path d="M498.60 491.80H613.00" stroke="#2a2a2a" stroke-width="1.25" fill="none"/>
<path d="M495.90 491.80H499.20" stroke="#2a2a2a" stroke-width="0.9"/>
<text x="495.70" y="493.80" font-size="5.7" text-anchor="end" font-weight="bold" font-style="normal" fill="#222" >0.0</text>
<path d="M495.90 476.92H499.20" stroke="#2a2a2a" stroke-width="0.9"/>
<text x="495.70" y="478.92" font-size="5.7" text-anchor="end" font-weight="bold" font-style="normal" fill="#222" >0.5</text>
<path d="M495.90 462.04H499.20" stroke="#2a2a2a" stroke-width="0.9"/>
<text x="495.70" y="464.04" font-size="5.7" text-anchor="end" font-weight="bold" font-style="normal" fill="#222" >1.0</text>
<path d="M495.90 447.16H499.20" stroke="#2a2a2a" stroke-width="0.9"/>
<text x="495.70" y="449.16" font-size="5.7" text-anchor="end" font-weight="bold" font-style="normal" fill="#222" >1.5</text>
<path d="M495.90 432.28H499.20" stroke="#2a2a2a" stroke-width="0.9"/>
<text x="495.70" y="434.28" font-size="5.7" text-anchor="end" font-weight="bold" font-style="normal" fill="#222" >2.0</text>
<path d="M495.90 417.40H499.20" stroke="#2a2a2a" stroke-width="0.9"/>
<text x="495.70" y="419.40" font-size="5.7" text-anchor="end" font-weight="bold" font-style="normal" fill="#222" >2.5</text>
<text transform="translate(484.00 454.60) rotate(-90)" font-size="7.5" text-anchor="middle" font-weight="bold" fill="#222">Relative Expression</text>
<path d="M513.05 462.04V459.36M508.95 459.36H517.15" stroke="#333" stroke-width="0.8" fill="none"/>
<rect x="505.60" y="462.04" width="14.90" height="29.76" fill="#231f20"/>
<path d="M513.05 491.80v3.5" stroke="#2a2a2a" stroke-width="1.0"/>
<path d="M533.95 457.58V456.09M529.85 456.09H538.05" stroke="#333" stroke-width="0.8" fill="none"/>
<rect x="526.50" y="457.58" width="14.90" height="34.22" fill="#a2a4a7"/>
<path d="M533.95 491.80v3.5" stroke="#2a2a2a" stroke-width="1.0"/>
<path d="M554.85 451.92V449.24M550.75 449.24H558.95" stroke="#333" stroke-width="0.8" fill="none"/>
<rect x="547.40" y="451.92" width="14.90" height="39.88" fill="#dddedf"/>
<path d="M554.85 491.80v3.5" stroke="#2a2a2a" stroke-width="1.0"/>
<path d="M575.85 436.74V424.24M571.75 424.24H579.95" stroke="#333" stroke-width="0.8" fill="none"/>
<rect x="568.40" y="436.74" width="14.90" height="55.06" fill="#808285"/>
<path d="M575.85 491.80v3.5" stroke="#2a2a2a" stroke-width="1.0"/>
<path d="M596.75 461.44V459.06M592.65 459.06H600.85" stroke="#333" stroke-width="0.8" fill="none"/>
<rect x="589.30" y="461.44" width="14.90" height="30.36" fill="#b3b5b8"/>
<path d="M596.75 491.80v3.5" stroke="#2a2a2a" stroke-width="1.0"/>
<text x="533.95" y="452.95" font-size="8.0" text-anchor="middle" font-weight="bold" font-style="normal" fill="#333" >*</text>
<text x="554.85" y="445.12" font-size="8.0" text-anchor="middle" font-weight="bold" font-style="normal" fill="#333" >**</text>
<text x="575.85" y="421.11" font-size="8.0" text-anchor="middle" font-weight="bold" font-style="normal" fill="#333" >**</text>
<text x="481.60" y="502.90" font-size="7.5" text-anchor="middle" font-weight="bold" font-style="normal" fill="#222" >Insulin</text>
<text x="481.60" y="511.30" font-size="7.5" text-anchor="middle" font-weight="bold" font-style="normal" fill="#222" >Treatment</text>
<text x="513.05" y="507.80" font-size="7.2" text-anchor="middle" font-weight="bold" font-style="normal" fill="#222" >0 h</text>
<text x="533.95" y="507.80" font-size="7.2" text-anchor="middle" font-weight="bold" font-style="normal" fill="#222" >1 h</text>
<text x="554.85" y="507.80" font-size="7.2" text-anchor="middle" font-weight="bold" font-style="normal" fill="#222" >2 h</text>
<text x="575.85" y="507.80" font-size="7.2" text-anchor="middle" font-weight="bold" font-style="normal" fill="#222" >3 h</text>
<text x="596.75" y="507.80" font-size="7.2" text-anchor="middle" font-weight="bold" font-style="normal" fill="#222" >18 h</text>
<text x="-0.20" y="8.60" font-size="11.9" text-anchor="start" font-weight="bold" font-style="normal" fill="#111" >A</text>
<text x="-0.90" y="279.70" font-size="12.0" text-anchor="start" font-weight="bold" font-style="normal" fill="#111" >B</text>
<text x="22.40" y="545.00" font-size="12.4" text-anchor="start" font-weight="bold" font-style="normal" fill="#111" >C</text>
<text x="213.40" y="544.80" font-size="12.2" text-anchor="start" font-weight="bold" font-style="normal" fill="#111" >D</text>
<text x="427.60" y="544.80" font-size="12.0" text-anchor="start" font-weight="bold" font-style="normal" fill="#111" >E</text>
<text x="85.80" y="571.76" font-size="10.9" text-anchor="end" font-weight="bold" font-style="italic" fill="#222" >Drosophila</text>
<text x="88.60" y="584.78" font-size="10.6" text-anchor="end" font-weight="bold" font-style="normal" fill="#222" >S2R+</text>
<text x="88.60" y="596.77" font-size="10.8" text-anchor="end" font-weight="bold" font-style="normal" fill="#222" >Rapamycin:</text>
<text x="119.00" y="581.01" font-size="10.6" text-anchor="middle" font-weight="bold" font-style="normal" fill="#222" >Exp 1</text>
<text x="165.00" y="581.01" font-size="10.6" text-anchor="middle" font-weight="bold" font-style="normal" fill="#222" >Exp 2</text>
<text x="108.00" y="598.08" font-size="10.5" text-anchor="middle" font-weight="bold" font-style="normal" fill="#222" >-</text>
<text x="129.60" y="598.08" font-size="10.5" text-anchor="middle" font-weight="bold" font-style="normal" fill="#222" >+</text>
<text x="154.80" y="598.08" font-size="10.5" text-anchor="middle" font-weight="bold" font-style="normal" fill="#222" >-</text>
<text x="176.50" y="598.08" font-size="10.5" text-anchor="middle" font-weight="bold" font-style="normal" fill="#222" >+</text>
<text x="88.60" y="616.40" font-size="11.1" text-anchor="end" font-weight="bold" font-style="normal" fill="#222" >CCT4</text>
<text x="88.60" y="636.95" font-size="11.2" text-anchor="end" font-weight="bold" font-style="normal" fill="#222" >Tubulin</text>
<rect x="96.10" y="603.10" width="92.30" height="16.20" fill="#f4f4f4" stroke="#262626" stroke-width="1.0"/>
<rect x="99.60" y="610.95" width="15.00" height="2.30" rx="1.15" fill="#111" opacity="0.95" filter="url(#b0)"/>
<rect x="123.05" y="611.10" width="13.50" height="2.00" rx="1.00" fill="#111" opacity="0.6" filter="url(#b0)"/>
<rect x="146.50" y="611.20" width="14.00" height="2.40" rx="1.20" fill="#111" opacity="0.95" filter="url(#b0)" transform="rotate(-1 153.50 612.40)"/>
<rect x="169.90" y="610.05" width="13.00" height="1.70" rx="0.85" fill="#111" opacity="0.45" filter="url(#b0)" transform="rotate(-4 176.40 610.90)"/>
<rect x="96.10" y="625.40" width="92.30" height="16.40" fill="#f4f4f4" stroke="#262626" stroke-width="1.0"/>
<rect x="99.50" y="632.30" width="16.00" height="3.40" rx="1.70" fill="#111" opacity="0.9" filter="url(#b0)"/>
<rect x="122.45" y="632.30" width="15.50" height="3.40" rx="1.70" fill="#111" opacity="0.9" filter="url(#b0)"/>
<rect x="146.10" y="632.70" width="15.00" height="4.00" rx="2.00" fill="#111" opacity="0.98" filter="url(#b0)"/>
<rect x="168.45" y="631.20" width="15.50" height="3.40" rx="1.70" fill="#111" opacity="0.88" filter="url(#b0)" transform="rotate(-4 176.20 632.90)"/>
<text x="288.90" y="534.85" font-size="10.9" text-anchor="end" font-weight="bold" font-style="italic" fill="#222" >Drosophila</text>
<text x="292.20" y="548.99" font-size="10.8" text-anchor="end" font-weight="bold" font-style="normal" fill="#222" >S2R+</text>
<text x="292.10" y="561.05" font-size="10.9" text-anchor="end" font-weight="bold" font-style="normal" fill="#222" >dsRNA:</text>
<text transform="translate(315.90 563.5) rotate(-90)" font-size="10.0" text-anchor="start" font-weight="bold" font-style="italic" fill="#222">Ctrl</text>
<text transform="translate(338.20 563.5) rotate(-90)" font-size="10.0" text-anchor="start" font-weight="bold" font-style="italic" fill="#222">CCT4</text>
<text transform="translate(363.30 563.5) rotate(-90)" font-size="10.0" text-anchor="start" font-weight="bold" font-style="italic" fill="#222">Akt</text>
<text transform="translate(386.60 563.5) rotate(-90)" font-size="10.0" text-anchor="start" font-weight="bold" font-style="italic" fill="#222">Tor</text>
<text x="291.60" y="586.40" font-size="11.0" text-anchor="end" font-weight="bold" font-style="normal" fill="#222" >CCT4</text>
<text x="291.60" y="611.50" font-size="11.0" text-anchor="end" font-weight="bold" font-style="normal" fill="#222" >TOR</text>
<text x="291.60" y="636.30" font-size="11.0" text-anchor="end" font-weight="bold" font-style="normal" fill="#222" >Akt</text>
<text x="291.60" y="658.30" font-size="11.0" text-anchor="end" font-weight="bold" font-style="normal" fill="#222" >Rheb</text>
<text x="291.60" y="680.50" font-size="11.0" text-anchor="end" font-weight="bold" font-style="normal" fill="#222" >GAPDH</text>
<rect x="299.40" y="571.80" width="96.30" height="21.50" fill="#f9f9f9" stroke="#262626" stroke-width="1.0"/>
<rect x="304.40" y="579.40" width="14.60" height="3.00" rx="1.50" fill="#111" opacity="0.92" filter="url(#b1)" transform="rotate(3 311.70 580.90)"/>
<rect x="327.30" y="581.10" width="9.00" height="2.20" rx="1.10" fill="#111" opacity="0.08" filter="url(#b1)"/>
<rect x="350.75" y="581.85" width="14.50" height="2.30" rx="1.15" fill="#111" opacity="0.62" filter="url(#b1)"/>
<rect x="374.20" y="581.50" width="15.00" height="2.60" rx="1.30" fill="#111" opacity="0.75" filter="url(#b1)" transform="rotate(-1 381.70 582.80)"/>
<rect x="299.40" y="597.20" width="96.30" height="18.00" fill="#efefef" stroke="#262626" stroke-width="1.0"/>
<rect x="304.45" y="605.90" width="14.50" height="3.20" rx="1.60" fill="#111" opacity="0.55" filter="url(#b2)"/>
<rect x="328.35" y="605.90" width="15.50" height="4.00" rx="2.00" fill="#111" opacity="0.62" filter="url(#b2)"/>
<rect x="352.80" y="605.90" width="15.00" height="3.20" rx="1.60" fill="#111" opacity="0.55" filter="url(#b2)"/>
<rect x="375.50" y="606.50" width="12.00" height="3.00" rx="1.50" fill="#111" opacity="0.07" filter="url(#b2)"/>
<rect x="299.40" y="619.20" width="96.30" height="22.30" fill="#f7f7f7" stroke="#262626" stroke-width="1.0"/>
<rect x="301.90" y="632.50" width="15.40" height="4.60" rx="2.30" fill="#111" opacity="0.98" filter="url(#b1)"/>
<rect x="325.80" y="633.70" width="16.80" height="5.20" rx="2.60" fill="#111" opacity="0.98" filter="url(#b1)"/>
<rect x="377.15" y="634.35" width="17.10" height="4.30" rx="2.15" fill="#111" opacity="0.98" filter="url(#b1)"/>
<rect x="302.75" y="622.20" width="13.50" height="2.20" rx="1.10" fill="#111" opacity="0.38" filter="url(#b2)"/>
<rect x="326.75" y="623.70" width="14.50" height="2.20" rx="1.10" fill="#111" opacity="0.38" filter="url(#b2)"/>
<rect x="377.40" y="624.10" width="16.00" height="2.20" rx="1.10" fill="#111" opacity="0.38" filter="url(#b2)"/>
<rect x="299.40" y="645.40" width="96.30" height="16.30" fill="#e6e6e6" stroke="#262626" stroke-width="1.0"/>
<ellipse cx="310.40" cy="653.20" rx="10.25" ry="4.40" fill="#222" opacity="0.3" filter="url(#b3)"/>
<ellipse cx="310.40" cy="653.20" rx="8.75" ry="3.20" fill="#0a0a0a" filter="url(#b1)"/>
<ellipse cx="334.20" cy="653.70" rx="11.00" ry="4.70" fill="#222" opacity="0.3" filter="url(#b3)"/>
<ellipse cx="334.20" cy="653.70" rx="9.50" ry="3.50" fill="#0a0a0a" filter="url(#b1)"/>
<ellipse cx="358.00" cy="653.20" rx="11.25" ry="5.70" fill="#222" opacity="0.3" filter="url(#b3)"/>
<ellipse cx="358.00" cy="653.20" rx="9.75" ry="4.50" fill="#0a0a0a" filter="url(#b1)"/>
<ellipse cx="382.80" cy="653.60" rx="12.00" ry="6.20" fill="#222" opacity="0.3" filter="url(#b3)"/>
<ellipse cx="382.80" cy="653.60" rx="10.50" ry="5.00" fill="#0a0a0a" filter="url(#b1)"/>
<rect x="299.40" y="645.4" width="96.30" height="16.3" fill="none" stroke="#262626" stroke-width="1.0"/>
<rect x="299.40" y="665.40" width="96.30" height="24.00" fill="#f0f0f0" stroke="#262626" stroke-width="1.0"/>
<rect x="303.60" y="673.80" width="17.00" height="4.80" rx="2.40" fill="#111" opacity="0.92" filter="url(#b3)"/>
<rect x="327.50" y="674.30" width="18.00" height="4.80" rx="2.40" fill="#111" opacity="0.7" filter="url(#b3)"/>
<rect x="353.15" y="674.30" width="16.50" height="4.80" rx="2.40" fill="#111" opacity="0.6" filter="url(#b3)"/>
<rect x="376.40" y="672.20" width="18.00" height="4.80" rx="2.40" fill="#111" opacity="0.82" filter="url(#b3)" transform="rotate(-7 385.40 674.60)"/>
<rect x="445.9" y="565.9" width="152.8" height="106.6" rx="16" ry="16" fill="none" stroke="#222" stroke-width="1.25"/>
<text x="473.21" y="556.21" font-size="9.8" text-anchor="middle" font-weight="bold" font-style="normal" fill="#222" >Insulin</text>
<text x="472.89" y="581.08" font-size="9.8" text-anchor="middle" font-weight="bold" font-style="normal" fill="#222" >InR</text>
<text x="519.18" y="581.08" font-size="9.8" text-anchor="middle" font-weight="bold" font-style="normal" fill="#222" >Akt</text>
<text x="565.93" y="581.08" font-size="9.8" text-anchor="middle" font-weight="bold" font-style="normal" fill="#222" >TOR</text>
<text x="566.72" y="611.93" font-size="9.8" text-anchor="middle" font-weight="bold" font-style="italic" fill="#222" >CCT</text>
<text x="566.72" y="622.95" font-size="9.8" text-anchor="middle" font-weight="bold" font-style="italic" fill="#222" >complex</text>
<text x="566.40" y="655.07" font-size="9.8" text-anchor="middle" font-weight="bold" font-style="normal" fill="#222" >Protein</text>
<text x="566.40" y="666.09" font-size="9.8" text-anchor="middle" font-weight="bold" font-style="normal" fill="#222" >synthesis</text>
<text x="495.25" y="659.16" font-size="9.8" text-anchor="middle" font-weight="bold" font-style="normal" fill="#222" >Growth</text>
<path d="M472.60 558.70L472.60 567.50" stroke="#262626" stroke-width="0.95" fill="none"/>
<path d="M472.60 570.50L469.40 564.20L472.60 566.50L475.80 564.20Z" fill="#1c1c1c"/>
<path d="M487.69 577.58L503.58 577.58" stroke="#262626" stroke-width="0.95" fill="none"/>
<path d="M506.58 577.58L500.28 580.78L502.58 577.58L500.28 574.38Z" fill="#1c1c1c"/>
<path d="M532.30 577.50L548.70 577.50" stroke="#262626" stroke-width="0.95" fill="none"/>
<path d="M551.70 577.50L545.40 580.70L547.70 577.50L545.40 574.30Z" fill="#1c1c1c"/>
<path d="M566.60 585.30L566.60 597.00" stroke="#262626" stroke-width="0.95" fill="none"/>
<path d="M566.60 600.00L563.40 593.70L566.60 596.00L569.80 593.70Z" fill="#1c1c1c"/>
<path d="M566.60 627.70L566.60 639.40" stroke="#262626" stroke-width="0.95" fill="none"/>
<path d="M566.60 642.40L563.40 636.10L566.60 638.40L569.80 636.10Z" fill="#1c1c1c"/>
<path d="M539.01 654.72L520.92 654.72" stroke="#262626" stroke-width="0.95" fill="none"/>
<path d="M517.92 654.72L524.22 651.52L521.92 654.72L524.22 657.92Z" fill="#1c1c1c"/>
<path d="M513.82 587.34H521.69" stroke="#262626" stroke-width="0.95"/>
<path d="M517.60 588.14V615.36H541.53" stroke="#262626" stroke-width="0.95" fill="none" stroke-dasharray="5 2.9"/>
</g>
</svg>
</body>
</html>
